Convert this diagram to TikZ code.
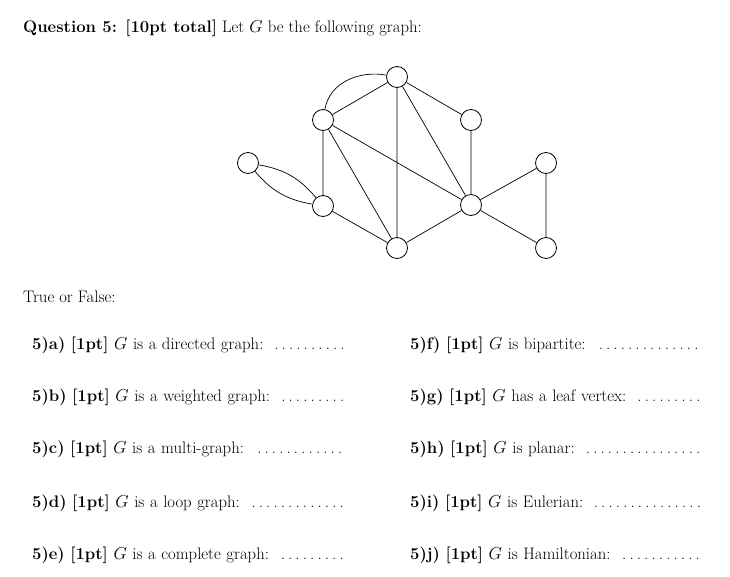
\documentclass[tikz,border=0pt]{standalone}
\begin{document}
\begin{tikzpicture}[x=1pt,y=-1pt,
  v/.style={circle,draw,thick,minimum size=21pt,inner sep=0pt,line width=0.8pt},
  e/.style={line width=0.7pt},
  txt/.style={anchor=base west,inner sep=0pt,font=\fontsize{16.7}{20}\selectfont},
  q/.style={txt,text width=315pt}]
\useasboundingbox (0,0) rectangle (730,576);
\node[txt] (title) at (23,32) {\textbf{Question 5: [10pt total]} Let $G$ be the following graph:};
\node[v] (A) at (248,163) {};
\node[v] (B) at (323,206) {};
\node[v] (C) at (323,120) {};
\node[v] (D) at (397,77) {};
\node[v] (E) at (397,248) {};
\node[v] (F) at (471,120) {};
\node[v] (G) at (471,205) {};
\node[v] (H) at (546,163) {};
\node[v] (I) at (546,248) {};
\draw[e] (A) to[bend left=20] (B);
\draw[e] (A) to[bend right=20] (B);
\draw[e] (C) to[out=80,in=170] (D);
\draw[e] (B)--(C) (B)--(E) (C)--(D) (C)--(E) (C)--(G) (D)--(E) (D)--(G) (D)--(F) (F)--(G) (E)--(G) (G)--(H) (G)--(I) (H)--(I);
\node[txt] (tf) at (23,302) {True or False:};
\node[q] (qa) at (32,349) {\textbf{5)a) [1pt]} $G$ is a directed graph: \dotfill};
\node[q] (qb) at (32,401) {\textbf{5)b) [1pt]} $G$ is a weighted graph: \dotfill};
\node[q] (qc) at (32,453) {\textbf{5)c) [1pt]} $G$ is a multi-graph: \dotfill};
\node[q] (qd) at (32,507) {\textbf{5)d) [1pt]} $G$ is a loop graph: \dotfill};
\node[q] (qe) at (32,559) {\textbf{5)e) [1pt]} $G$ is a complete graph: \dotfill};
\node[q,text width=293pt] (qf) at (410,349) {\textbf{5)f) [1pt]} $G$ is bipartite: \dotfill};
\node[q,text width=293pt] (qg) at (410,401) {\textbf{5)g) [1pt]} $G$ has a leaf vertex: \dotfill};
\node[q,text width=293pt] (qh) at (410,453) {\textbf{5)h) [1pt]} $G$ is planar: \dotfill};
\node[q,text width=293pt] (qi) at (410,507) {\textbf{5)i) [1pt]} $G$ is Eulerian: \dotfill};
\node[q,text width=293pt] (qj) at (410,559) {\textbf{5)j) [1pt]} $G$ is Hamiltonian: \dotfill};
\end{tikzpicture}
\end{document}
